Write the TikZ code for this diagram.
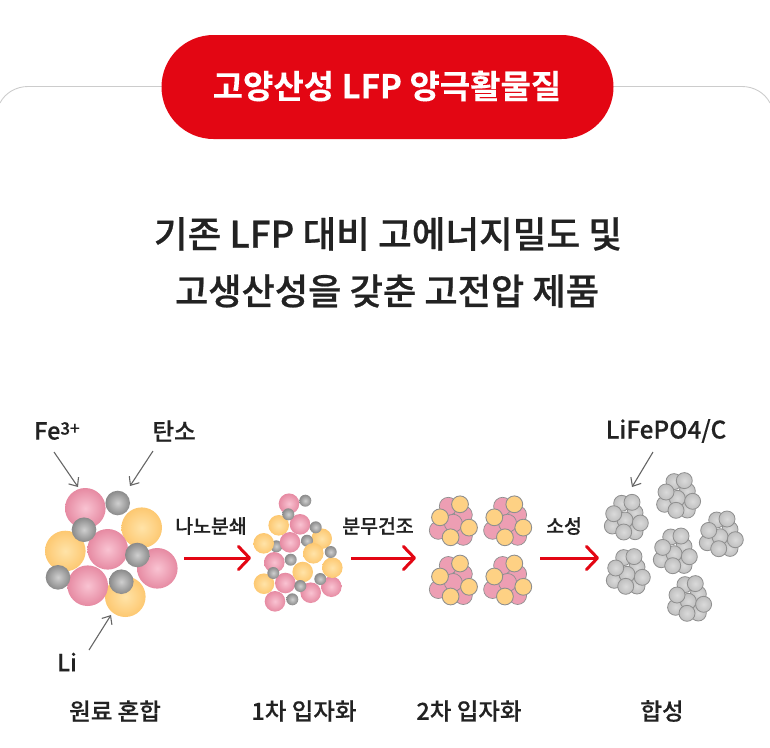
\documentclass[tikz,border=0pt]{standalone}
\usepackage{fontspec}
\setmainfont{Noto Sans CJK KR}[BoldFont={Noto Sans CJK KR Bold}]
\newfontfamily\krm[FakeBold=0.35]{Noto Sans CJK KR Medium}
\newfontfamily\krh[FakeBold=0.6]{Noto Sans CJK KR Medium}
\newfontfamily\krb[FakeBold=0.2]{Noto Sans CJK KR Bold}
\definecolor{brandred}{HTML}{E30613}
\definecolor{ink}{HTML}{222222}
\definecolor{pinkcore}{HTML}{F9C3D2}
\definecolor{pinkedge}{HTML}{E68AA2}
\definecolor{yellowcore}{HTML}{FFE3A8}
\definecolor{yellowedge}{HTML}{FDC871}
\definecolor{graycore}{HTML}{CFCFCF}
\definecolor{grayedge}{HTML}{8A8A8A}
\definecolor{rimgray}{HTML}{8F8F8F}
\definecolor{clumpcore}{HTML}{DADADA}
\definecolor{clumpedge}{HTML}{BFBFBF}
\usetikzlibrary{arrows.meta}
\tikzset{
  pinkball/.style={shading=radial,inner color=pinkcore,outer color=pinkedge},
  yellowball/.style={shading=radial,inner color=yellowcore,outer color=yellowedge},
  grayball/.style={shading=radial,inner color=graycore,outer color=grayedge},
  pinkflat/.style={fill=pinkcore!35!pinkedge,draw=rimgray,line width=0.7pt},
  yellowflat/.style={fill=yellowcore!35!yellowedge,draw=rimgray,line width=0.9pt},
  grayflat/.style={shade,inner color=clumpcore,outer color=clumpedge,draw=rimgray,line width=0.8pt},
  redarrow/.style={draw=brandred,line width=3pt,-{Straight Barb[length=11pt,width=23pt,line width=3pt,round]}},
  ptrarrow/.style={draw=gray!80!black,line width=1.1pt,-{Straight Barb[length=7pt,width=12pt,line width=1.1pt]}},
  lab/.style={font=\krm\fontsize{23.5}{28}\selectfont,text=ink,inner sep=0pt,anchor=center},
  steplab/.style={font=\krm\fontsize{19.4}{23}\selectfont,text=ink,inner sep=0pt,anchor=center},
  headline/.style={font=\krh\fontsize{36.6}{42}\selectfont,text=ink,inner sep=0pt,anchor=center},
}
\newcommand\orbs[3]{\foreach \px/\py in {#3}{\path[#1] (\px,\py) circle (#2);}}
\newcommand\yclump[2]{%
  \begin{scope}[shift={(#1,#2)}]
  \foreach \px/\py in {-5/-17,10/-8.5,-15/7,10/13,0/0}{\path[pinkflat] (\px,\py) circle (9);}
  \foreach \px/\py in {6.7/-19,-13.3/-6,15.7/4.3,-2.7/14}{\path[yellowflat] (\px,\py) circle (8.4);}
  \end{scope}}
\newcommand\gclump[2]{%
  \begin{scope}[shift={(#1,#2)}]
  \foreach \px/\py in {-3.3/-16.7,10/-7.3,-12.7/6,10/11.7,0/0,7/-17.7,-11.3/-6.3,15.3/3,-1.3/12}{\path[grayflat] (\px,\py) circle (8);}
  \end{scope}}
\begin{document}
\begin{tikzpicture}[x=1pt,y=-1pt]
\useasboundingbox (0,0) rectangle (770,747);
\draw[draw=gray!40,line width=0.9pt] (0,103) .. controls (5,93) and (16,86.5) .. (28,86.5) -- (742,86.5) .. controls (754,86.5) and (765,93) .. (770,103);
\node[fill=brandred,rounded corners=52pt,minimum width=452pt,minimum height=104pt,inner sep=0pt] (pill) at (387.5,87) {};
\node[font=\krb\fontsize{33}{38}\selectfont,text=white,inner sep=0pt] (pilltext) at (387,86) {고양산성 LFP 양극활물질};
\node[headline] (h1) at (388,234) {기존 LFP 대비 고에너지밀도 및};
\node[headline,font=\krh\fontsize{36.2}{42}\selectfont] (h2) at (387,291) {고생산성을 갖춘 고전압 제품};

% stage 1
\orbs{yellowball}{20.3}{141.7/527.7,65.3/551,125.3/596.7}
\orbs{pinkball}{20.3}{85.3/508.3,157.3/568.3,107.7/549.3,87.7/585.7}
\orbs{grayball}{12.3}{117.7/503,84/529.7,137.3/555,58/577.3,121.3/581.7}
% stage 2
\orbs{grayball}{6}{276.3/546.3}
\orbs{yellowball}{10.3}{278.7/525.3,321.7/538.7,263.7/543.3,302.7/572,264/583.7}
\orbs{grayball}{6}{307/540.7}
\orbs{pinkball}{10.3}{289/503.7,300/524.3,290/542.3,274.3/562.3,285.3/583,310.7/592.7,331.3/586.7,275/601.3}
\orbs{yellowball}{10.3}{313.3/553.3,332.3/567.7}
\orbs{grayball}{6}{305.3/500.7,288.3/514.3,315.7/527.3,330.7/552,290.7/559.7,273.3/573,320.3/579,300.3/586,292.3/599.3}
% stage 3
\yclump{453.3}{523.3}\yclump{507.6}{523.3}\yclump{453.3}{582.5}\yclump{507.6}{582.5}
% stage 4
\gclump{625}{520}\gclump{677.3}{498.3}\gclump{720}{536.7}\gclump{674}{553.7}\gclump{627}{574.3}\gclump{688.3}{601.3}

% labels
\node[lab,anchor=west] (fe) at (34,431) {Fe\raisebox{5pt}{\fontsize{17}{17}\selectfont 3+}};
\node[lab] (carbon) at (174,431) {탄소};
\node[lab] (li) at (67,662) {Li};
\node[lab,font=\krm\fontsize{24.3}{28}\selectfont] (lfp) at (666,431) {LiFePO4/C};
\node[steplab] (s1) at (211,526) {나노분쇄};
\node[steplab] (s2) at (378,526) {분무건조};
\node[steplab] (s3) at (564,526) {소성};
\node[lab] (b1) at (115,711) {원료 혼합};
\node[lab] (b2) at (304,711) {1차 입자화};
\node[lab] (b3) at (469,711) {2차 입자화};
\node[lab] (b4) at (662,711) {합성};

% pointers
\coordinate (feA) at (54,452); \coordinate (feB) at (78,487);
\coordinate (cA) at (153,451); \coordinate (cB) at (130,486);
\coordinate (liA) at (89,650); \coordinate (liB) at (111,615);
\coordinate (lfA) at (653,452); \coordinate (lfB) at (632,487);
\draw[ptrarrow] (feA) -- (feB);
\draw[ptrarrow] (cA) -- (cB);
\draw[ptrarrow] (liA) -- (liB);
\draw[ptrarrow] (lfA) -- (lfB);
% process arrows
\coordinate (r1a) at (184,558); \coordinate (r1b) at (251,558);
\coordinate (r2a) at (351,558); \coordinate (r2b) at (416,558);
\coordinate (r3a) at (540,558); \coordinate (r3b) at (599,558);
\draw[redarrow] (r1a) -- (r1b);
\draw[redarrow] (r2a) -- (r2b);
\draw[redarrow] (r3a) -- (r3b);
\end{tikzpicture}
\end{document}
